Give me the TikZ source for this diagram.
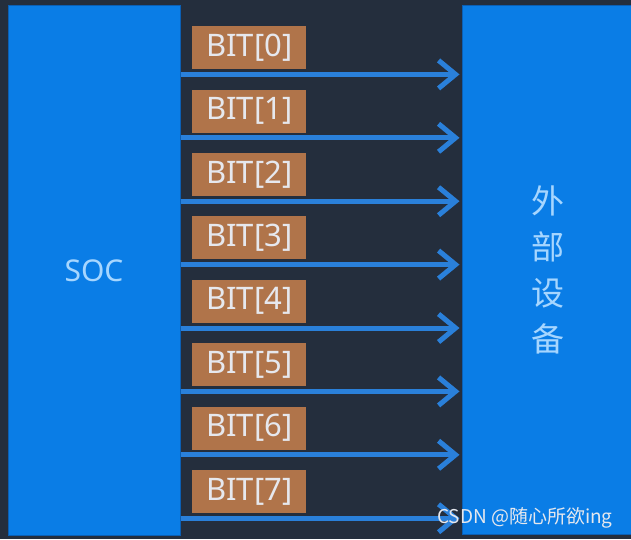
\documentclass[tikz,border=0pt]{standalone}
\usepackage{fontspec}
\setmainfont{Noto Sans}
\newfontfamily\cjk{Noto Sans CJK SC}
\usepackage{xcolor}
\usetikzlibrary{arrows.meta, positioning}
\definecolor{pagebg}{HTML}{242E3D}
\definecolor{chipblue}{HTML}{0A7DE6}
\definecolor{edgeblue}{HTML}{0B5FB4}
\definecolor{wireblue}{HTML}{2A80DA}
\definecolor{bitbrown}{HTML}{B0744A}
\definecolor{textlight}{HTML}{E6E8EE}
\definecolor{textblue}{HTML}{A6D6FF}

\begin{document}
\begin{tikzpicture}[x=1pt, y=1pt,
    node distance=20pt,
    chip/.style={rectangle, draw=edgeblue, line width=1pt, fill=chipblue, inner sep=0pt, text=textblue},
    bitbox/.style={rectangle, fill=bitbrown, minimum width=114pt, minimum height=43pt, inner sep=0pt, text=textlight, font=\fontsize{31}{31}\selectfont},
    arrow/.style={-{Straight Barb[length=17pt, width=28pt]}, line width=5pt, draw=wireblue}
]
\useasboundingbox (0,0) rectangle (631,539);
\fill[pagebg] (0,0) rectangle (631,539);

\node[chip, minimum width=172pt, minimum height=529pt, font=\fontsize{30}{30}\selectfont] (soc) at (94,268.5) {SOC};
\node[chip, minimum width=171pt, minimum height=528pt, align=center, font=\cjk\fontsize{33}{46}\selectfont] (dev) at (547.5,269) {外\\部\\设\\备};

\node[bitbox, anchor=north west] (b0) at (192,513) {BIT[0]};
\node[bitbox, below=of b0] (b1) {BIT[1]};
\node[bitbox, below=of b1] (b2) {BIT[2]};
\node[bitbox, below=of b2] (b3) {BIT[3]};
\node[bitbox, below=of b3] (b4) {BIT[4]};
\node[bitbox, below=of b4] (b5) {BIT[5]};
\node[bitbox, below=of b5] (b6) {BIT[6]};
\node[bitbox, below=of b6] (b7) {BIT[7]};

\coordinate[below=5pt of b0.south] (w0);
\coordinate[below=5pt of b1.south] (w1);
\coordinate[below=5pt of b2.south] (w2);
\coordinate[below=5pt of b3.south] (w3);
\coordinate[below=5pt of b4.south] (w4);
\coordinate[below=5pt of b5.south] (w5);
\coordinate[below=5pt of b6.south] (w6);
\coordinate[below=5pt of b7.south] (w7);

\draw[arrow] (soc.east |- w0) -- ([xshift=-2pt]dev.west |- w0);
\draw[arrow] (soc.east |- w1) -- ([xshift=-2pt]dev.west |- w1);
\draw[arrow] (soc.east |- w2) -- ([xshift=-2pt]dev.west |- w2);
\draw[arrow] (soc.east |- w3) -- ([xshift=-2pt]dev.west |- w3);
\draw[arrow] (soc.east |- w4) -- ([xshift=-2pt]dev.west |- w4);
\draw[arrow] (soc.east |- w5) -- ([xshift=-2pt]dev.west |- w5);
\draw[arrow] (soc.east |- w6) -- ([xshift=-2pt]dev.west |- w6);
\draw[arrow] (soc.east |- w7) -- ([xshift=-2pt]dev.west |- w7);

\node[anchor=west, inner sep=0pt, text=textlight, font=\cjk\fontsize{19}{19}\selectfont] (mark) at (437,21) {CSDN @随心所欲ing};

\end{tikzpicture}
\end{document}
